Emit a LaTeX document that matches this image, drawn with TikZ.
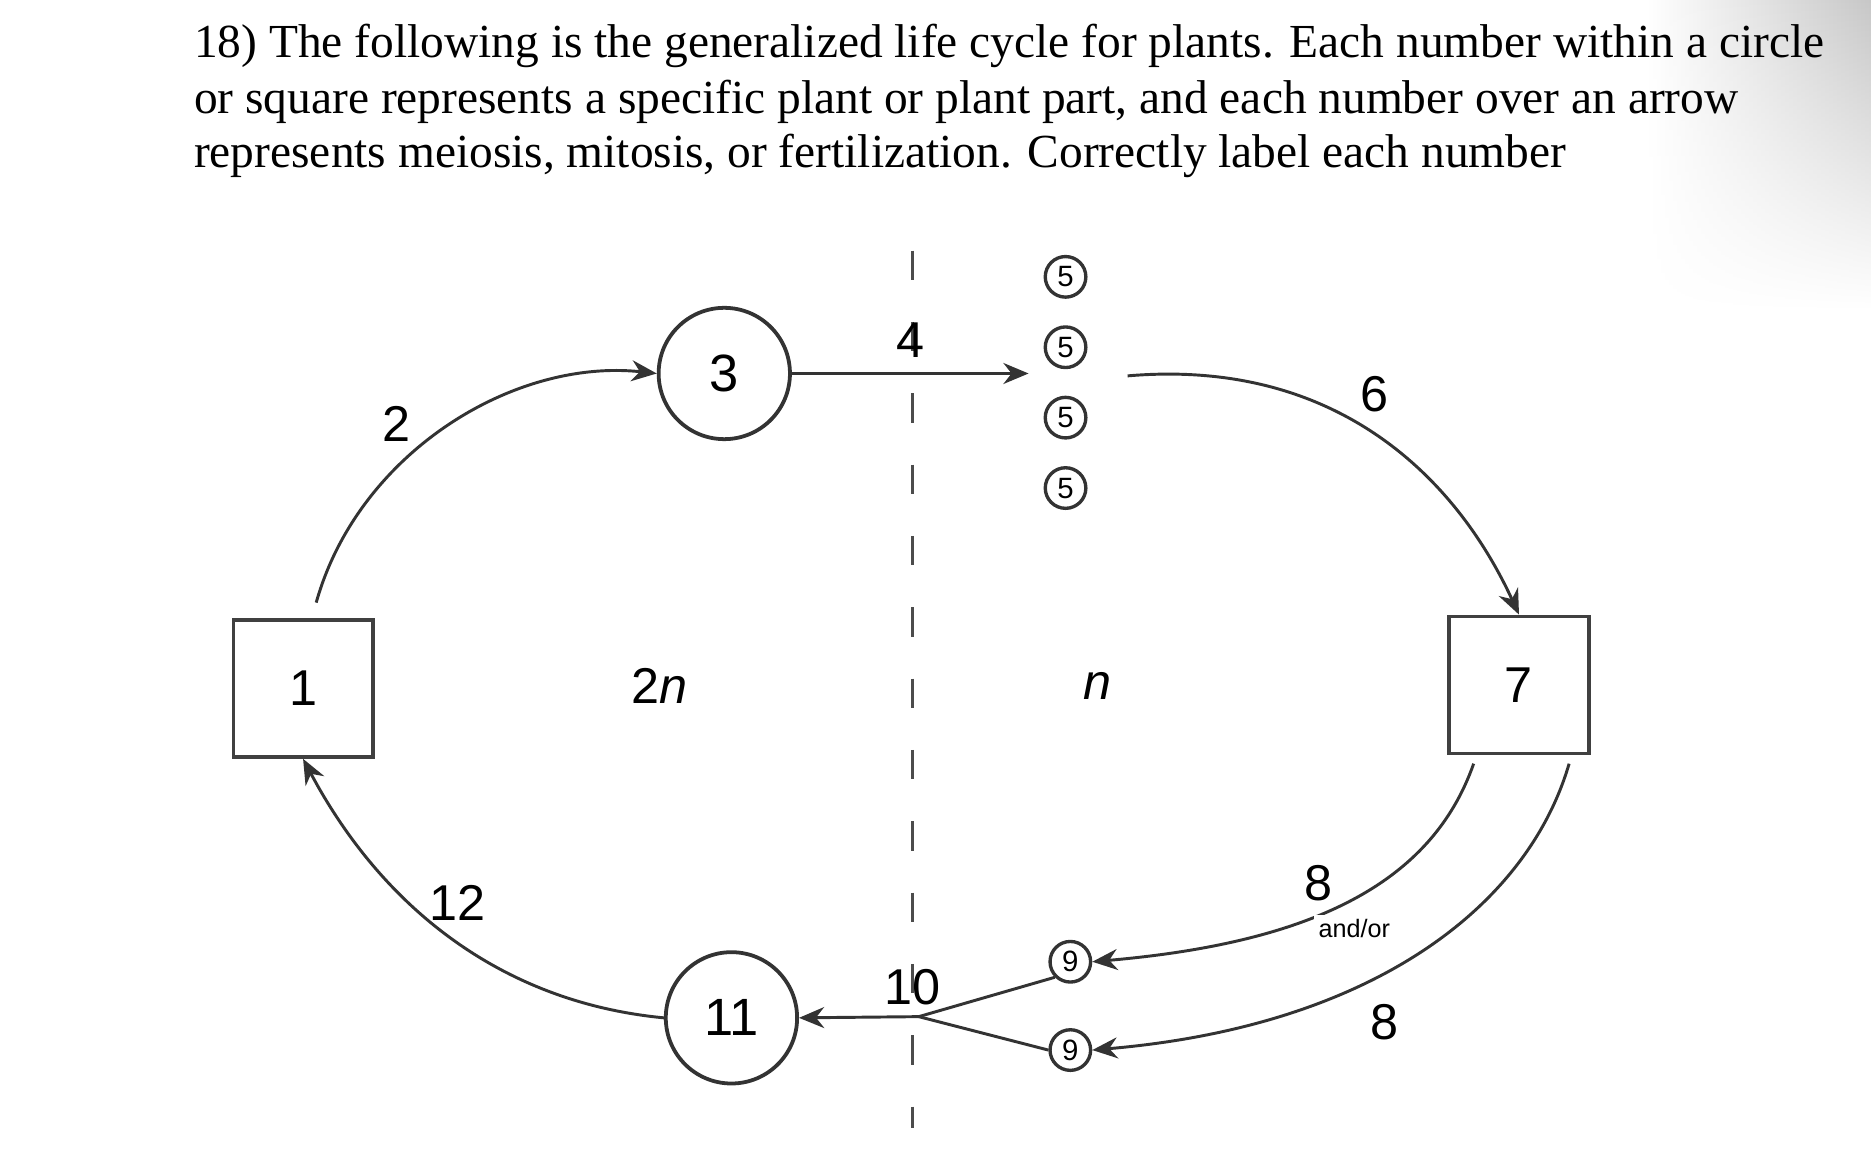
\documentclass[tikz,border=0pt]{standalone}
\usepackage{fontspec}
\setmainfont{Liberation Serif}
\newfontfamily\dsans{Liberation Sans}
\usetikzlibrary{arrows.meta,fadings}
\tikzset{
 lab/.style={font=\dsans\fontsize{12pt}{14pt}\selectfont},
 bx/.style={draw=black!75,line width=0.8pt,minimum width=1.17cm,minimum height=1.15cm,font=\dsans\fontsize{12pt}{14pt}\selectfont},
 bc/.style={draw=black!80,circle,line width=0.9pt,minimum size=1.1cm,inner sep=0pt,font=\dsans\fontsize{12.5pt}{14pt}\selectfont},
 sc/.style={draw=black!80,circle,line width=0.8pt,minimum size=0.34cm,inner sep=0pt,font=\dsans\fontsize{7pt}{8pt}\selectfont},
 ar/.style={draw=black!80,line width=0.7pt,-{Stealth[length=6pt,width=5pt]}},
}
\begin{document}
\begin{tikzpicture}[x=0.01cm,y=-0.01cm]
\useasboundingbox (0,0) rectangle (1568,981);
\shade[left color=white,right color=black!22,path fading=south] (1380,0) rectangle (1568,260);
\foreach \y/\t in {48/{18) The following is the generalized life cycle for plants. Each number within a circle},
  95/{or square represents a specific plant or plant part, and each number over an arrow},
  140/{represents meiosis, mitosis, or fertilization. Correctly label each number}}
  \node[anchor=base west,inner sep=0,font=\fontsize{11.3pt}{13pt}\selectfont] at (162,\y) {\t};
\draw[black!70,line width=0.7pt,dash pattern=on 7pt off 10pt] (765,210) -- (765,945);
\node[bx] (b1) at (254,577) {1};
\node[bx] (b7) at (1273,574) {7};
\node[bc] (c3) at (607,313) {3};
\node[bc] (c11) at (613,853) {11};
\foreach \y/\n in {232/a,291/b,350/c,409/d} \node[sc] (f\n) at (893,\y) {5};
\node[sc] (n1) at (897,806) {9};
\node[sc] (n2) at (897,880) {9};
\coordinate (x10) at (770,852);
\coordinate (in5) at (862,313);
\coordinate (out5) at (945,315);
\draw[ar] (265,505) .. controls (300,380) and (430,300) .. (c3.west);
\draw[ar] (c3.east) -- (in5);
\draw[ar] (out5) .. controls (1120,300) and (1220,400) .. (b7.north);
\draw[ar] (1235,640) .. controls (1200,740) and (1100,790) .. (n1.east);
\draw[ar] (1315,640) .. controls (1280,760) and (1150,860) .. (n2.east);
\draw[ar] (n1.south west) -- (x10) -- (c11.east);
\draw[black!80,line width=0.7pt] (n2.west) -- (x10);
\draw[ar] (c11.west) .. controls (420,840) and (320,760) .. (b1.south);
\node[lab] (l2) at (332,355) {2};
\node[lab] (l4) at (763,285) {4};
\node[lab] (l6) at (1152,330) {6};
\node[lab] (l2n) at (553,575) {2\textit{n}};
\node[lab] (ln) at (920,575) {\textit{n}};
\node[lab] (l12) at (383,757) {12};
\node[lab] (l8) at (1105,740) {8};
\node[fill=white,inner sep=1pt,font=\dsans\fontsize{6pt}{7pt}\selectfont] (ao) at (1135,778) {and/or};
\node[lab] (l8b) at (1160,857) {8};
\node[lab] (l10) at (765,827) {10};
\end{tikzpicture}
\end{document}
